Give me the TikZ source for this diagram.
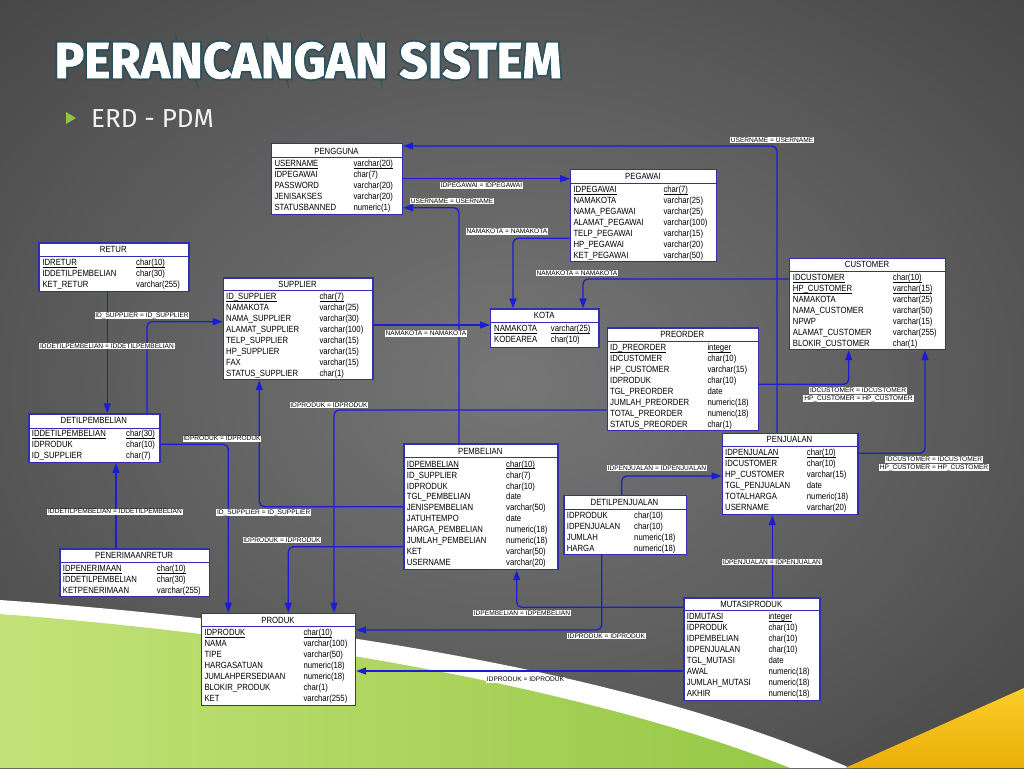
\documentclass[tikz,border=0pt]{standalone}
\usepackage{fontspec}
\usetikzlibrary{arrows.meta}
\setmainfont{Liberation Sans}
\newfontfamily\tabfont{Liberation Sans}[FakeStretch=0.86]
\newfontfamily\lblfont{Liberation Sans}
\newfontfamily\ttlfont{Fira Sans}[BoldFeatures={FakeBold=1.5}]
\newfontfamily\glowfontA{Fira Sans}[BoldFeatures={FakeBold=9}]
\newfontfamily\glowfontB{Fira Sans}[BoldFeatures={FakeBold=5}]
\newfontfamily\subfont{Fira Sans}
\definecolor{bgin}{RGB}{118,118,118}
\definecolor{bgmid}{RGB}{90,90,90}
\definecolor{bgout}{RGB}{50,50,50}
\definecolor{tblblue}{RGB}{48,48,175}
\definecolor{relblue}{RGB}{28,28,215}
\definecolor{glow}{RGB}{30,78,95}
\definecolor{grnA}{RGB}{196,226,120}
\definecolor{grnB}{RGB}{150,200,70}
\definecolor{gldA}{RGB}{250,205,40}
\definecolor{gldB}{RGB}{235,175,10}
\definecolor{bullet}{RGB}{140,198,63}
\pgfdeclareradialshading{bgshade}{\pgfpoint{0bp}{0bp}}{color(0bp)=(bgin); color(22bp)=(bgmid); color(50bp)=(bgout); color(72bp)=(bgout)}
\newcommand\pkund[1]{\setbox0=\hbox{#1}\rlap{\rule[-1.6pt]{\wd0}{0.6pt}}\box0}
\newcounter{fldc}
\newcommand\frow[5]{\stepcounter{fldc}%
  \node[fld] (fn\arabic{fldc}) at (#1,{#3+3.2}) {#4};%
  \node[fld] (ft\arabic{fldc}) at (#2,{#3+3.2}) {#5};}
\newcommand\etable[8]{%
  \node[tbl, minimum width={#4-#2}, minimum height={#5-#3}] (#1) at (#2,#3) {};%
  \draw[hdr] (#1.west |- 0,#6) -- (#1.east |- 0,#6);%
  \node[ttl] (#1-t) at ({(#2+#4)/2},{#8+3.2}) {#7};}
\begin{document}
\begin{tikzpicture}[x=1pt,y=-1pt,
  tbl/.style={draw=tblblue, fill=white, line width=1.2pt, inner sep=0pt, anchor=north west},
  hdr/.style={draw=tblblue, line width=1pt},
  ttl/.style={font=\tabfont\fontsize{9}{10}\selectfont, inner sep=0pt, anchor=base},
  fld/.style={font=\tabfont\fontsize{9}{10}\selectfont, inner sep=0pt, anchor=base west},
  rel/.style={draw=relblue, line width=1.3pt, rounded corners=5pt, -{Triangle[length=10pt,width=7pt]}},
  lbl/.style={fill=white, font=\lblfont\fontsize{6.6}{7}\selectfont, inner sep=0.8pt, text=black}]
\useasboundingbox (0,0) rectangle (1024,768);
% background
\shade[shading=bgshade] (0,0) rectangle (1024,768);
\fill[white] (0,600) .. controls (350,625) and (650,680) .. (850,768) -- (0,768) -- cycle;
\shade[left color=grnA, right color=grnB] (0,614) .. controls (340,640) and (620,700) .. (790,768) -- (0,768) -- cycle;
\shade[top color=gldA, bottom color=gldB] (845,768) -- (1024,688) -- (1024,768) -- cycle;
% title
\node[text=glow, opacity=0.55, inner sep=0pt] (titleglowA) at (308,60.5) {\resizebox{507pt}{36pt}{\glowfontA\bfseries PERANCANGAN SISTEM}};
\node[text=glow, opacity=0.9, inner sep=0pt] (titleglowB) at (308,60.5) {\resizebox{507pt}{36pt}{\glowfontB\bfseries PERANCANGAN SISTEM}};
\node[text=white, inner sep=0pt] (title) at (308,60.5) {\resizebox{507pt}{36pt}{\ttlfont\bfseries PERANCANGAN SISTEM}};
\fill[bullet] (66,112) -- (76,118) -- (66,124) -- cycle;
\node[text=white!95!black, anchor=base west, inner sep=0pt] (sub) at (91,127.5) {\subfont\fontsize{26}{28}\selectfont ERD - PDM};
% tables
\etable{pengguna}{271}{143}{402}{214}{157.7}{PENGGUNA}{151}
\frow{274.3}{353.3}{163.3}{\pkund{USERNAME}}{\pkund{varchar(20)}}
\frow{274.3}{353.3}{174.3}{IDPEGAWAI}{char(7)}
\frow{274.3}{353.3}{185.3}{PASSWORD}{varchar(20)}
\frow{274.3}{353.3}{196.5}{JENISAKSES}{varchar(20)}
\frow{274.3}{353.3}{207.7}{STATUSBANNED}{numeric(1)}
\etable{pegawai}{570}{169}{716}{261}{183.3}{PEGAWAI}{176.7}
\frow{573.3}{663.3}{189.3}{\pkund{IDPEGAWAI}}{\pkund{char(7)}}
\frow{573.3}{663.3}{200.3}{NAMAKOTA}{varchar(25)}
\frow{573.3}{663.3}{211.2}{NAMA\_PEGAWAI}{varchar(25)}
\frow{573.3}{663.3}{222.1}{ALAMAT\_PEGAWAI}{varchar(100)}
\frow{573.3}{663.3}{233.1}{TELP\_PEGAWAI}{varchar(15)}
\frow{573.3}{663.3}{244.1}{HP\_PEGAWAI}{varchar(20)}
\frow{573.3}{663.3}{255.2}{KET\_PEGAWAI}{varchar(50)}
\etable{retur}{38.3}{242.3}{188.3}{290.7}{256.7}{RETUR}{249.7}
\frow{42.3}{136}{262.3}{\pkund{IDRETUR}}{\pkund{char(10)}}
\frow{42.3}{136}{273.5}{IDDETILPEMBELIAN}{char(30)}
\frow{42.3}{136}{284.6}{KET\_RETUR}{varchar(255)}
\etable{supplier}{222.7}{277.3}{372.3}{379}{290.7}{SUPPLIER}{284}
\frow{226}{319.3}{296.7}{\pkund{ID\_SUPPLIER}}{\pkund{char(7)}}
\frow{226}{319.3}{307.6}{NAMAKOTA}{varchar(25)}
\frow{226}{319.3}{318.5}{NAMA\_SUPPLIER}{varchar(30)}
\frow{226}{319.3}{329.4}{ALAMAT\_SUPPLIER}{varchar(100)}
\frow{226}{319.3}{340.3}{TELP\_SUPPLIER}{varchar(15)}
\frow{226}{319.3}{351.2}{HP\_SUPPLIER}{varchar(15)}
\frow{226}{319.3}{362.1}{FAX}{varchar(15)}
\frow{226}{319.3}{373}{STATUS\_SUPPLIER}{char(1)}
\etable{kota}{490}{308.3}{598.3}{346.5}{322.7}{KOTA}{315.7}
\frow{494}{550.7}{328.3}{\pkund{NAMAKOTA}}{\pkund{varchar(25)}}
\frow{494}{550.7}{339.3}{KODEAREA}{char(10)}
\etable{customer}{789}{258}{945}{349}{271}{CUSTOMER}{264.3}
\frow{792.7}{892.7}{277.3}{\pkund{IDCUSTOMER}}{\pkund{char(10)}}
\frow{792.7}{892.7}{288.3}{\pkund{HP\_CUSTOMER}}{\pkund{varchar(15)}}
\frow{792.7}{892.7}{299.2}{NAMAKOTA}{varchar(25)}
\frow{792.7}{892.7}{310.1}{NAMA\_CUSTOMER}{varchar(50)}
\frow{792.7}{892.7}{321}{NPWP}{varchar(15)}
\frow{792.7}{892.7}{332}{ALAMAT\_CUSTOMER}{varchar(255)}
\frow{792.7}{892.7}{343}{BLOKIR\_CUSTOMER}{char(1)}
\etable{preorder}{606.7}{327.3}{757.7}{430}{341.7}{PREORDER}{334.3}
\frow{610}{707.3}{347.3}{\pkund{ID\_PREORDER}}{\pkund{integer}}
\frow{610}{707.3}{358.2}{IDCUSTOMER}{char(10)}
\frow{610}{707.3}{369.1}{HP\_CUSTOMER}{varchar(15)}
\frow{610}{707.3}{380.1}{IDPRODUK}{char(10)}
\frow{610}{707.3}{391.1}{TGL\_PREORDER}{date}
\frow{610}{707.3}{402.1}{JUMLAH\_PREORDER}{numeric(18)}
\frow{610}{707.3}{413}{TOTAL\_PREORDER}{numeric(18)}
\frow{610}{707.3}{424}{STATUS\_PREORDER}{char(1)}
\etable{penjualan}{721.7}{432.7}{857.3}{514}{446.7}{PENJUALAN}{439.3}
\frow{725}{806.7}{452.7}{\pkund{IDPENJUALAN}}{\pkund{char(10)}}
\frow{725}{806.7}{463.7}{IDCUSTOMER}{char(10)}
\frow{725}{806.7}{474.7}{HP\_CUSTOMER}{varchar(15)}
\frow{725}{806.7}{485.7}{TGL\_PENJUALAN}{date}
\frow{725}{806.7}{496.7}{TOTALHARGA}{numeric(18)}
\frow{725}{806.7}{507.7}{USERNAME}{varchar(20)}
\etable{detilpembelian}{28.3}{413.3}{159.3}{461.7}{428}{DETILPEMBELIAN}{420.7}
\frow{31.7}{126}{433.7}{\pkund{IDDETILPEMBELIAN}}{\pkund{char(30)}}
\frow{31.7}{126}{444.5}{IDPRODUK}{char(10)}
\frow{31.7}{126}{455.3}{ID\_SUPPLIER}{char(7)}
\etable{pembelian}{403.3}{443.3}{557.3}{569}{457.7}{PEMBELIAN}{451}
\frow{406.7}{506}{464}{\pkund{IDPEMBELIAN}}{\pkund{char(10)}}
\frow{406.7}{506}{474.9}{ID\_SUPPLIER}{char(7)}
\frow{406.7}{506}{485.8}{IDPRODUK}{char(10)}
\frow{406.7}{506}{496.7}{TGL\_PEMBELIAN}{date}
\frow{406.7}{506}{507.7}{JENISPEMBELIAN}{varchar(50)}
\frow{406.7}{506}{518.6}{JATUHTEMPO}{date}
\frow{406.7}{506}{529.6}{HARGA\_PEMBELIAN}{numeric(18)}
\frow{406.7}{506}{540.5}{JUMLAH\_PEMBELIAN}{numeric(18)}
\frow{406.7}{506}{551.4}{KET}{varchar(50)}
\frow{406.7}{506}{562.3}{USERNAME}{varchar(20)}
\etable{detilpenjualan}{563.3}{495}{685.7}{554}{509}{DETILPENJUALAN}{502.3}
\frow{566.7}{634}{515.3}{IDPRODUK}{char(10)}
\frow{566.7}{634}{526.2}{IDPENJUALAN}{char(10)}
\frow{566.7}{634}{537.1}{JUMLAH}{numeric(18)}
\frow{566.7}{634}{548}{HARGA}{numeric(18)}
\etable{penerimaanretur}{59.3}{548.3}{209}{596}{562.7}{PENERIMAANRETUR}{555.7}
\frow{62.7}{156.7}{568.3}{\pkund{IDPENERIMAAN}}{\pkund{char(10)}}
\frow{62.7}{156.7}{579.4}{IDDETILPEMBELIAN}{char(30)}
\frow{62.7}{156.7}{590.5}{KETPENERIMAAN}{varchar(255)}
\etable{produk}{201}{612.7}{355}{705}{626.7}{PRODUK}{620}
\frow{204.3}{303.3}{632.7}{\pkund{IDPRODUK}}{\pkund{char(10)}}
\frow{204.3}{303.3}{643.7}{NAMA}{varchar(100)}
\frow{204.3}{303.3}{654.7}{TIPE}{varchar(50)}
\frow{204.3}{303.3}{665.7}{HARGASATUAN}{numeric(18)}
\frow{204.3}{303.3}{676.7}{JUMLAHPERSEDIAAN}{numeric(18)}
\frow{204.3}{303.3}{687.6}{BLOKIR\_PRODUK}{char(1)}
\frow{204.3}{303.3}{698.6}{KET}{varchar(255)}
\etable{mutasiproduk}{683.3}{597.3}{819.3}{700}{610}{MUTASIPRODUK}{604}
\frow{686.7}{768.3}{616.7}{\pkund{IDMUTASI}}{\pkund{integer}}
\frow{686.7}{768.3}{627.5}{IDPRODUK}{char(10)}
\frow{686.7}{768.3}{638.4}{IDPEMBELIAN}{char(10)}
\frow{686.7}{768.3}{649.4}{IDPENJUALAN}{char(10)}
\frow{686.7}{768.3}{660.4}{TGL\_MUTASI}{date}
\frow{686.7}{768.3}{671.4}{AWAL}{numeric(18)}
\frow{686.7}{768.3}{682.4}{JUMLAH\_MUTASI}{numeric(18)}
\frow{686.7}{768.3}{693.3}{AKHIR}{numeric(18)}
% connectors
\draw[rel] (777,0 |- penjualan.north) |- (pengguna.east |- 0,146);
\draw[rel] (pengguna.east |- 0,178.7) -- (pegawai.west |- 0,178.7);
\draw[rel] (459,0 |- pembelian.north) |- (pengguna.east |- 0,207.7);
\draw[rel] (pegawai.west |- 0,238.3) -| (513,0 |- kota.north);
\draw[rel] (customer.west |- 0,279) -| (583,0 |- kota.north);
\draw[rel] (supplier.east |- 0,325) -- (kota.west |- 0,325);
\draw[rel] (107.3,0 |- retur.south) -- (107.3,0 |- detilpembelian.north);
\draw[rel] (147,0 |- detilpembelian.north) |- (supplier.west |- 0,321.7);
\draw[rel] (116,0 |- penerimaanretur.north) -- (116,0 |- detilpembelian.south);
\draw[rel] (detilpembelian.east |- 0,444.3) -| (228.3,0 |- produk.north);
\draw[rel] (pembelian.west |- 0,506.7) -| (259.3,0 |- supplier.south);
\draw[rel] (pembelian.west |- 0,546.7) -| (288.3,0 |- produk.north);
\draw[rel] (preorder.west |- 0,410) -| (334,0 |- produk.north);
\draw[rel] (preorder.east |- 0,384.3) -| (848.7,0 |- customer.south);
\draw[rel] (penjualan.east |- 0,453.3) -| (925,0 |- customer.south);
\draw[rel] (621.7,0 |- detilpenjualan.north) |- (penjualan.west |- 0,476);
\draw[rel] (601.7,0 |- detilpenjualan.south) |- (produk.east |- 0,630);
\draw[rel] (772.3,0 |- mutasiproduk.north) -- (772.3,0 |- penjualan.south);
\draw[rel] (mutasiproduk.west |- 0,607.3) -| (516.7,0 |- pembelian.south);
\draw[rel] (mutasiproduk.west |- 0,671) -- (produk.east |- 0,671);
% labels
\node[lbl] (l1) at (772,140) {USERNAME = USERNAME};
\node[lbl] (l2) at (481.5,185.5) {IDPEGAWAI = IDPEGAWAI};
\node[lbl] (l3) at (452,201) {USERNAME = USERNAME};
\node[lbl] (l4) at (507,231.5) {NAMAKOTA = NAMAKOTA};
\node[lbl] (l5) at (577,273) {NAMAKOTA = NAMAKOTA};
\node[lbl] (l6) at (426,333.5) {NAMAKOTA = NAMAKOTA};
\node[lbl] (l7) at (107,346) {IDDETILPEMBELIAN = IDDETILPEMBELIAN};
\node[lbl] (l8) at (142,315.7) {ID\_SUPPLIER = ID\_SUPPLIER};
\node[lbl] (l9) at (115,511.7) {IDDETILPEMBELIAN = IDDETILPEMBELIAN};
\node[lbl] (l10) at (222,438.7) {IDPRODUK = IDPRODUK};
\node[lbl] (l11) at (263.7,512.5) {ID\_SUPPLIER = ID\_SUPPLIER};
\node[lbl] (l12) at (282,540) {IDPRODUK = IDPRODUK};
\node[lbl] (l13) at (329,405) {IDPRODUK = IDPRODUK};
\node[lbl] (l14) at (858,390.5) {IDCUSTOMER = IDCUSTOMER};
\node[lbl] (l15) at (858.5,398.5) {HP\_CUSTOMER = HP\_CUSTOMER};
\node[lbl] (l16) at (934,459.5) {IDCUSTOMER = IDCUSTOMER};
\node[lbl] (l17) at (934,467.5) {HP\_CUSTOMER = HP\_CUSTOMER};
\node[lbl] (l18) at (657,468) {IDPENJUALAN = IDPENJUALAN};
\node[lbl] (l19) at (606.5,636) {IDPRODUK = IDPRODUK};
\node[lbl] (l20) at (771.7,562.3) {IDPENJUALAN = IDPENJUALAN};
\node[lbl] (l21) at (522,613) {IDPEMBELIAN = IDPEMBELIAN};
\node[lbl] (l22) at (525.5,679.7) {IDPRODUK = IDPRODUK};
\end{tikzpicture}
\end{document}
